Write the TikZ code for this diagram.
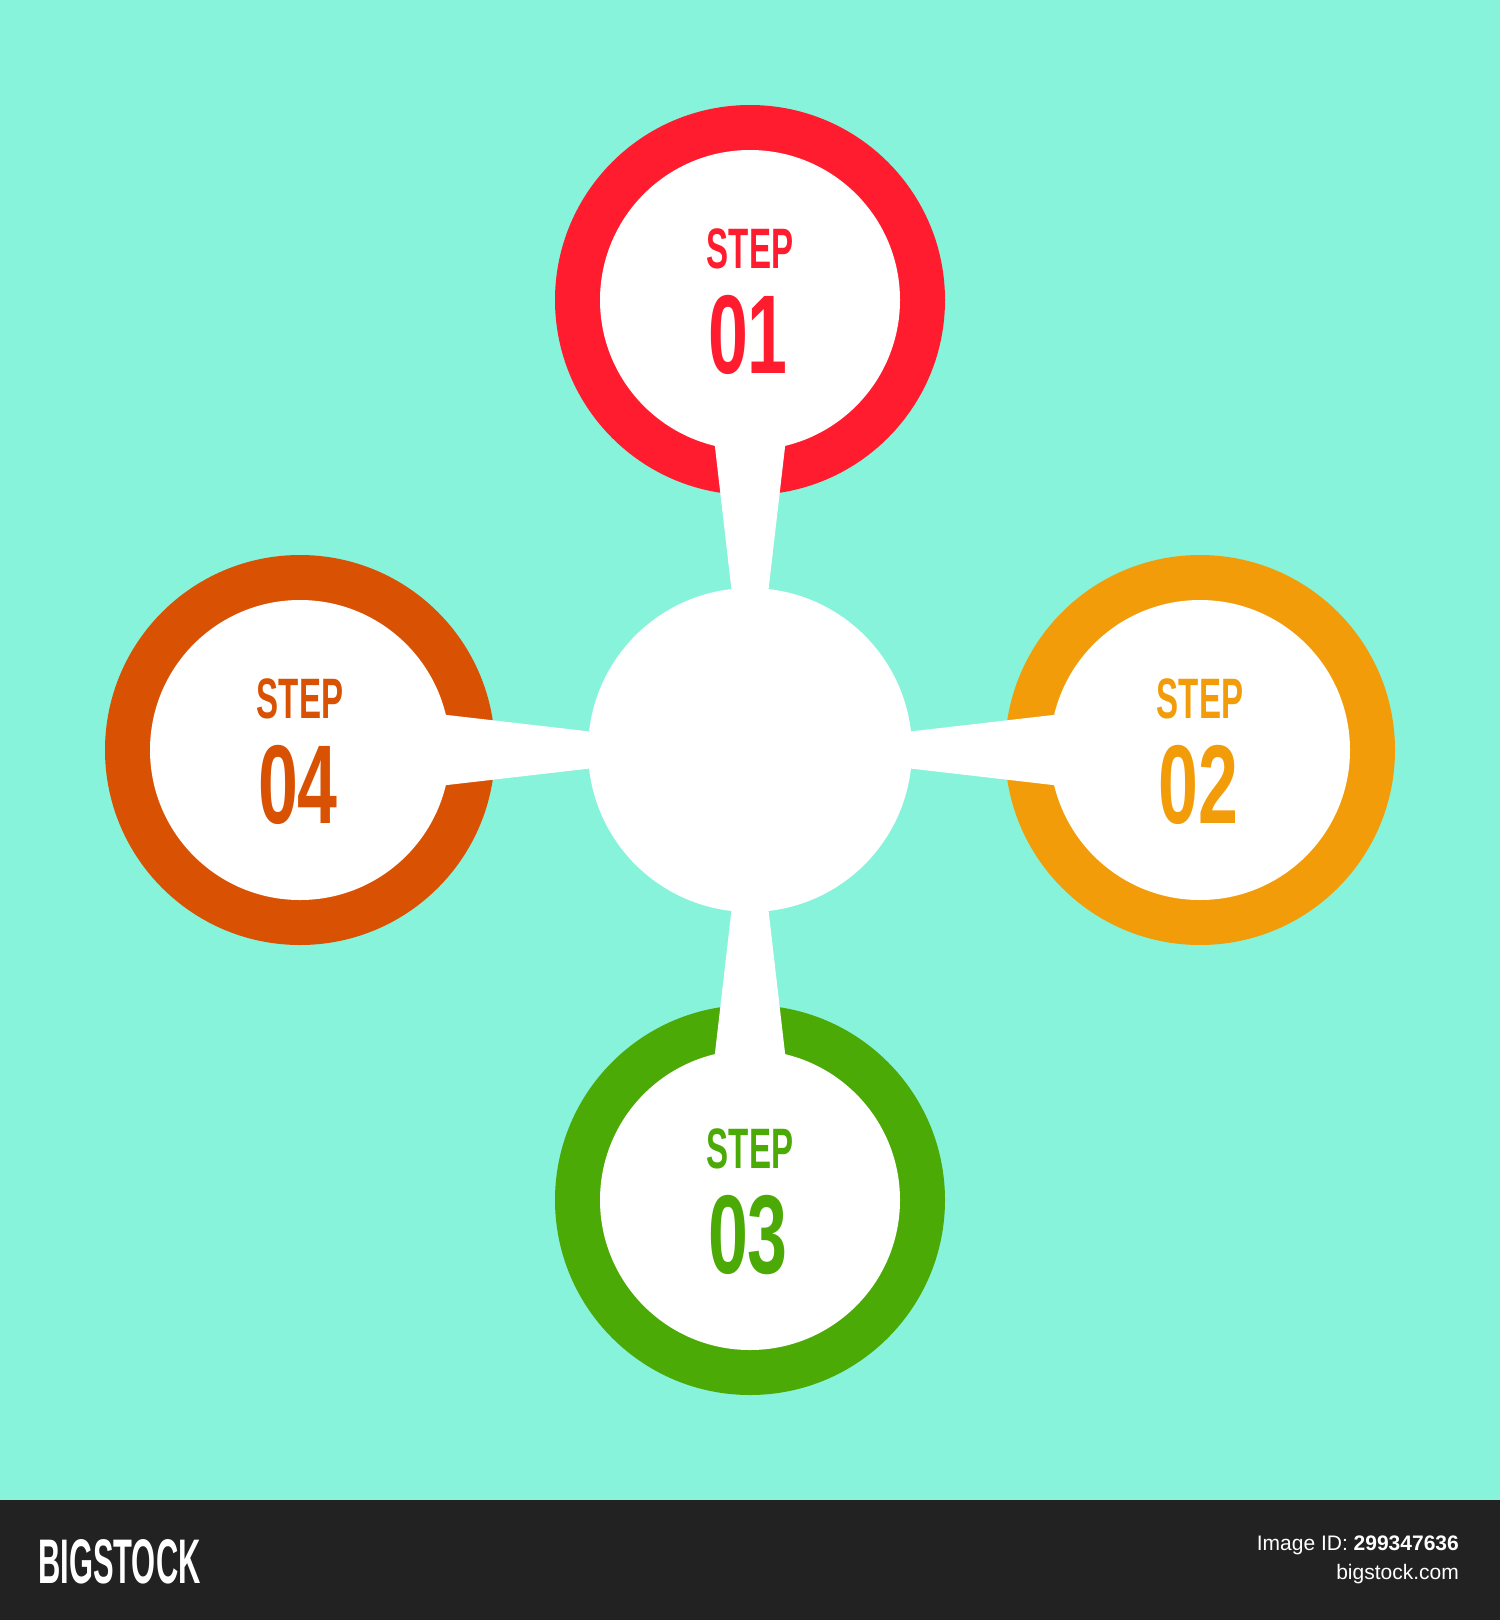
\documentclass[tikz,border=0pt]{standalone}
\usepackage{fontspec}
\setmainfont{Liberation Sans}
\usetikzlibrary{calc}
\definecolor{bg}{HTML}{86F3DA}
\definecolor{bar}{HTML}{222222}
\definecolor{cred}{HTML}{FF1C2E}
\definecolor{corange}{HTML}{F39C0A}
\definecolor{cgreen}{HTML}{4CAA06}
\definecolor{cdark}{HTML}{D95204}
\tikzset{
  ring/.style={circle, minimum size=390pt, inner sep=0pt, fill=#1},
  hole/.style={circle, minimum size=300pt, inner sep=0pt, fill=white},
  hub/.style={circle, minimum size=324pt, inner sep=0pt, fill=white},
  steplabel/.style={anchor=base, inner sep=0pt, text=#1, font=\fontsize{57}{57}\selectfont\bfseries},
  numlabel/.style={anchor=base, inner sep=0pt, text=#1, font=\fontsize{112}{112}\selectfont\bfseries},
}
\begin{document}
\begin{tikzpicture}[x=1pt,y=-1pt]
\fill[bg] (0,0) rectangle (1500,1500);
\fill[bar] (0,1500) rectangle (1500,1620);
\useasboundingbox (0,0) rectangle (1500,1620);
% rings
\node[ring=cred] (r1) at (750,300) {};
\node[ring=corange] (r2) at (1200,750) {};
\node[ring=cgreen] (r3) at (750,1200) {};
\node[ring=cdark] (r4) at (300,750) {};
\coordinate (c) at (750,750);
% tapered connectors
\fill[white] (c) -- ($(r1.center)+(-52,0)$) -- ($(r1.center)+(52,0)$) -- cycle;
\fill[white] (c) -- ($(r3.center)+(-52,0)$) -- ($(r3.center)+(52,0)$) -- cycle;
\fill[white] (c) -- ($(r2.center)+(0,-52)$) -- ($(r2.center)+(0,52)$) -- cycle;
\fill[white] (c) -- ($(r4.center)+(0,-52)$) -- ($(r4.center)+(0,52)$) -- cycle;
% hub and holes
\node[hub] (hub) at (c) {};
\node[hole] (h1) at (r1.center) {};
\node[hole] (h2) at (r2.center) {};
\node[hole] (h3) at (r3.center) {};
\node[hole] (h4) at (r4.center) {};
% labels
\node[steplabel=cred] (t1) at ($(r1.center)+(0,-32)$) {\scalebox{0.58}[1]{STEP}};
\node[numlabel=cred] (n1) at ($(r1.center)+(-2,73)$) {\scalebox{0.64}[1]{01}};
\node[steplabel=corange] (t2) at ($(r2.center)+(0,-32)$) {\scalebox{0.58}[1]{STEP}};
\node[numlabel=corange] (n2) at ($(r2.center)+(-2,73)$) {\scalebox{0.64}[1]{02}};
\node[steplabel=cgreen] (t3) at ($(r3.center)+(0,-32)$) {\scalebox{0.58}[1]{STEP}};
\node[numlabel=cgreen] (n3) at ($(r3.center)+(-2,73)$) {\scalebox{0.64}[1]{03}};
\node[steplabel=cdark] (t4) at ($(r4.center)+(0,-32)$) {\scalebox{0.58}[1]{STEP}};
\node[numlabel=cdark] (n4) at ($(r4.center)+(-2,73)$) {\scalebox{0.64}[1]{04}};
% bottom bar
\node[anchor=base west, inner sep=0pt, text=white, font=\fontsize{63}{63}\selectfont\bfseries] (logo) at (38,1583) {\scalebox{0.49}[1]{BIGSTOCK}};
\node[anchor=base east, inner sep=0pt, text=white, font=\fontsize{21}{21}\selectfont] (imgid) at (1459,1550) {Image ID: \textbf{299347636}};
\node[anchor=base east, inner sep=0pt, text=white, font=\fontsize{21}{21}\selectfont] (site) at (1459,1579) {bigstock.com};
\end{tikzpicture}
\end{document}
